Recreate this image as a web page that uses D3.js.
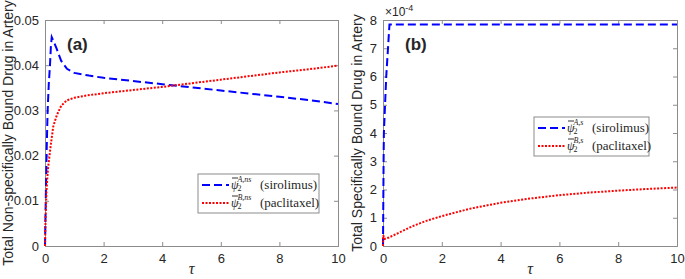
<!DOCTYPE html>
<html>
<head>
<meta charset="utf-8">
<script src="https://cdn.jsdelivr.net/npm/d3@7"></script>
<style>
  body { margin: 0; background: #fff; }
  text { font-family: "Liberation Sans", Arial, sans-serif; fill: #262626; }
</style>
</head>
<body>
<svg width="685" height="279"></svg>
<script>
// Panel (a): non-specifically bound drug
const tauA_blue = [0, 0.03, 0.06, 0.09, 0.13, 0.17, 0.2, 0.23, 0.3, 0.4, 0.55, 0.75, 1, 1.5, 2, 3, 4, 5, 6, 7, 8, 9, 10];
const nsSirolimus = [0, 0.012, 0.022, 0.030, 0.036, 0.040, 0.044, 0.0462, 0.0452, 0.0436, 0.041, 0.0392, 0.0383, 0.0377, 0.0372, 0.0365, 0.0358, 0.0351, 0.0344, 0.0337, 0.0330, 0.0323, 0.0314];
const tauA_red = [0, 0.02, 0.05, 0.1, 0.2, 0.28, 0.4, 0.55, 0.74, 1, 1.42, 2, 3, 4, 5, 6, 7, 8, 9, 10];
const nsPaclitaxel = [0, 0.006, 0.012, 0.017, 0.0225, 0.0264, 0.0289, 0.031, 0.0322, 0.0328, 0.0333, 0.0338, 0.0345, 0.0352, 0.036, 0.0368, 0.0376, 0.0384, 0.0391, 0.0399];

// Panel (b): specifically bound drug (x 1e-4)
const tauB_blue = [0, 0.02, 0.03, 0.07, 0.11, 0.17, 0.22, 10];
const sSirolimus = [0, 3, 4, 5, 6, 7, 7.84, 7.84];
const tauB_red = [0, 0.01, 0.05, 0.2, 0.5, 1, 1.5, 2, 3, 4, 5, 6, 7, 8, 9, 10];
const sPaclitaxel = [0, 0.38, 0.25, 0.3, 0.45, 0.7, 0.9, 1.06, 1.33, 1.53, 1.68, 1.8, 1.89, 1.96, 2.02, 2.07];

const xTicks = [0, 2, 4, 6, 8, 10];
const yTicksA = [0, 0.01, 0.02, 0.03, 0.04, 0.05];
const yTicksB = [0, 1, 2, 3, 4, 5, 6, 7, 8];

const svg = d3.select("svg");
const serif = "'Liberation Serif', 'DejaVu Serif', serif";

function panel(opt) {
  const x = d3.scaleLinear().domain([0, 10]).range([opt.left, opt.right]);
  const y = d3.scaleLinear().domain(opt.yDomain).range([246, 20]);
  const g = svg.append("g");

  // inward ticks on all four sides
  const tick = 4;
  g.append("g").attr("transform", "translate(0,246)")
    .call(d3.axisBottom(x).tickValues(xTicks).tickSize(-tick).tickPadding(8).tickFormat(d3.format("d")));
  g.append("g").attr("transform", "translate(0,20)")
    .call(d3.axisTop(x).tickValues(xTicks).tickSize(-tick).tickFormat(""));
  g.append("g").attr("transform", `translate(${opt.left},0)`)
    .call(d3.axisLeft(y).tickValues(opt.yTicks).tickSize(-tick).tickPadding(6).tickFormat(opt.fmt));
  g.append("g").attr("transform", `translate(${opt.right},0)`)
    .call(d3.axisRight(y).tickValues(opt.yTicks).tickSize(-tick).tickFormat(""));
  g.selectAll(".domain").attr("stroke", "#8c8c8c");
  g.selectAll(".tick line").attr("stroke", "#8c8c8c");
  g.selectAll(".tick text").style("font-size", "13px").attr("fill", "#262626");

  const line = d3.line().x(d => x(d[0])).y(d => y(d[1]));
  g.append("path")
    .datum(d3.zip(opt.tauBlue, opt.blue))
    .attr("d", line).attr("fill", "none")
    .attr("stroke", "#0000ff").attr("stroke-width", 2).attr("stroke-dasharray", "8,4");
  g.append("path")
    .datum(d3.zip(opt.tauRed, opt.red))
    .attr("d", line).attr("fill", "none")
    .attr("stroke", "#ff0000").attr("stroke-width", 2).attr("stroke-dasharray", "2,1.5");

  // axis titles
  g.append("text")
    .attr("x", (opt.left + opt.right) / 2).attr("y", 274)
    .attr("text-anchor", "middle")
    .style("font-family", serif).style("font-style", "italic").style("font-size", "16px")
    .text("τ");
  g.append("text")
    .attr("transform", `translate(${opt.yLabelX},133) rotate(-90)`)
    .attr("text-anchor", "middle").style("font-size", "14px")
    .text(opt.yLabel);

  g.append("text")
    .attr("x", opt.left + 22).attr("y", 50)
    .style("font-size", "17px").style("font-weight", "bold").attr("fill", "#000")
    .text(opt.tag);

  // legend
  const L = opt.legend;
  g.append("rect").attr("x", L.x).attr("y", L.y).attr("width", L.w).attr("height", 39)
    .attr("fill", "#fff").attr("stroke", "#8c8c8c");
  [["#0000ff", "8,4", L.sup[0], "(sirolimus)"], ["#ff0000", "2,1.5", L.sup[1], "(paclitaxel)"]].forEach((r, i) => {
    const cy = L.y + 11 + i * 18;
    g.append("line").attr("x1", L.x + 4).attr("x2", L.x + 31).attr("y1", cy).attr("y2", cy)
      .attr("stroke", r[0]).attr("stroke-width", 2).attr("stroke-dasharray", r[1]);
    const tx = L.x + 33;
    // psi with overbar, stacked sub/superscript, then the drug name
    const t = g.append("text").attr("x", tx).attr("y", cy + 4)
      .style("font-family", serif).style("font-size", "12px").attr("fill", "#000");
    t.append("tspan").style("font-style", "italic").text("ψ");
    t.append("tspan").attr("dx", -1).attr("dy", 2).style("font-size", "8px").text("2");
    t.append("tspan").attr("dx", -4).attr("dy", -9).style("font-size", "8px").style("font-style", "italic").text(r[2]);
    t.append("tspan").attr("x", L.x + L.textX).attr("y", cy + 4).style("font-size", "13px").text(r[3]);
    g.append("line").attr("x1", tx + 1).attr("x2", tx + 7).attr("y1", cy - 7).attr("y2", cy - 7)
      .attr("stroke", "#000").attr("stroke-width", 0.8);
  });
  return g;
}

panel({
  left: 45, right: 338, yDomain: [0, 0.05], yTicks: yTicksA,
  fmt: d => d === 0 ? "0" : d3.format(".2f")(d),
  tauBlue: tauA_blue, blue: nsSirolimus, tauRed: tauA_red, red: nsPaclitaxel,
  yLabel: "Total Non-specifically Bound Drug in Artery", yLabelX: 13, tag: "(a)",
  legend: { x: 198, y: 174, w: 121, textX: 62, sup: ["A,ns", "B,ns"] }
});

const gb = panel({
  left: 383, right: 677, yDomain: [0, 8], yTicks: yTicksB,
  fmt: d3.format("d"),
  tauBlue: tauB_blue, blue: sSirolimus, tauRed: tauB_red, red: sPaclitaxel,
  yLabel: "Total Specifically Bound Drug in Artery", yLabelX: 362, tag: "(b)",
  legend: { x: 534, y: 117, w: 115, textX: 58, sup: ["A,s", "B,s"] }
});

const exp = gb.append("text").attr("x", 385).attr("y", 16).style("font-size", "12px");
exp.append("tspan").text("×10");
exp.append("tspan").attr("dy", -5).style("font-size", "9px").text("-4");
</script>
</body>
</html>
